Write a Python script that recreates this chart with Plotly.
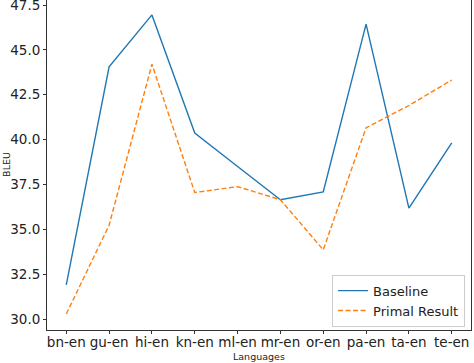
import plotly.graph_objects as go

languages = ["bn-en", "gu-en", "hi-en", "kn-en", "ml-en", "mr-en", "or-en", "pa-en", "ta-en", "te-en"]
baseline = [31.9, 44.05, 46.95, 40.37, 38.5, 36.65, 37.08, 46.44, 36.18, 39.82]
primal = [30.28, 35.23, 44.2, 37.05, 37.38, 36.65, 33.86, 40.66, 41.9, 43.32]
y_ticks = [30.0, 32.5, 35.0, 37.5, 40.0, 42.5, 45.0, 47.5]

fig = go.Figure()
fig.add_trace(go.Scatter(x=list(range(len(languages))), y=baseline, mode="lines", name="Baseline",
                         line=dict(color="#1f77b4", width=1.4)))
fig.add_trace(go.Scatter(x=list(range(len(languages))), y=primal, mode="lines", name="Primal Result",
                         line=dict(color="#ff7f0e", width=1.4, dash="5px,2.5px")))

fig.update_layout(
    template="none",
    width=474, height=363,
    margin=dict(l=47, r=3, t=0, b=33),
    paper_bgcolor="white", plot_bgcolor="white",
    font=dict(family="DejaVu Sans", color="#222"),
    xaxis=dict(range=[-0.45, 9.45], tickmode="array", tickvals=list(range(len(languages))),
               ticktext=languages, showgrid=False, zeroline=False, showline=True, linecolor="#333",
               linewidth=1, mirror=True, ticks="outside", ticklen=3, tickcolor="#333",
               tickfont=dict(size=13.5), automargin=False, ticklabelstandoff=-3),
    yaxis=dict(range=[29.39, 47.78], tickmode="array", tickvals=y_ticks,
               ticktext=[f"{v:.1f}" for v in y_ticks], showgrid=False, zeroline=False,
               showline=True, linecolor="#333", linewidth=1, mirror=True, ticks="outside",
               ticklen=3, tickcolor="#333", tickfont=dict(size=13.5), automargin=False,
               ticklabeloverflow="allow"),
    legend=dict(x=0.986, xanchor="right", y=0.01, yanchor="bottom", bgcolor="white",
                bordercolor="#ccc", borderwidth=1, font=dict(size=13), itemwidth=30,
                tracegroupgap=0),
    showlegend=True,
    annotations=[
        dict(text="Languages", xref="paper", yref="paper", x=0.5, y=-0.08, xanchor="center",
             yanchor="middle", showarrow=False, font=dict(size=9.5)),
        dict(text="BLEU", xref="paper", yref="paper", x=-0.097, y=0.503, xanchor="center",
             yanchor="middle", showarrow=False, textangle=-90, font=dict(size=9.5)),
    ],
)
fig.write_html("out.html", config={"displayModeBar": False},
               post_script="document.body.style.margin='0';")
